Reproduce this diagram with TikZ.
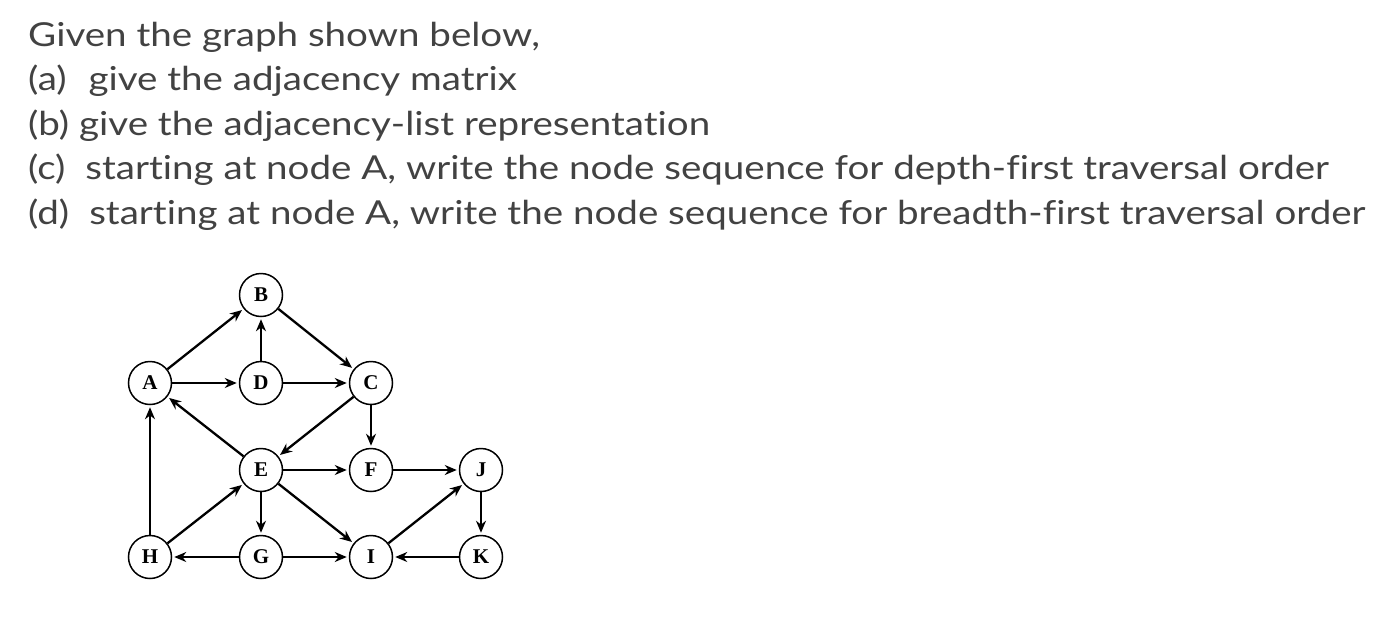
\documentclass[tikz,border=0pt]{standalone}
\usepackage{fontspec}
\setmainfont{Lato}[Ligatures=NoCommon,FakeStretch=1.168]
\newfontfamily\nodefont{Liberation Serif}
\usetikzlibrary{arrows.meta}
\definecolor{txtgray}{HTML}{424242}
\begin{document}
\begin{tikzpicture}[x=1pt,y=-1pt,
  vtx/.style={circle,draw=black,line width=1.5pt,minimum size=43pt,inner sep=0pt,font=\nodefont\bfseries\fontsize{21}{21}\selectfont},
  edge/.style={line width=2.3pt,-{Stealth[length=12pt,width=10pt]},shorten >=2pt},
  qline/.style={anchor=base west,inner sep=0pt,text=txtgray,font=\fontsize{33}{40}\selectfont}]
\useasboundingbox (0,0) rectangle (1396,616);
\node[qline] (t0) at (28,46) {Given the graph shown below,};
\node[qline] (t1) at (28,90.5) {(a)\hspace{22pt}give the adjacency matrix};
\node[qline] (t2) at (28,135) {(b) give the adjacency-list representation};
\node[qline] (t3) at (28,179.5) {(c)\hspace{20pt}starting at node A, write the node sequence for depth-first traversal order};
\node[qline] (t4) at (28,224) {(d)\hspace{20pt}starting at node A, write the node sequence for breadth-first traversal order};
\node[vtx] (B) at (261,295) {B};
\node[vtx] (A) at (150,383) {A};
\node[vtx] (D) at (261,383) {D};
\node[vtx] (C) at (371,383) {C};
\node[vtx] (E) at (261,470) {E};
\node[vtx] (F) at (371,470) {F};
\node[vtx] (J) at (481,470) {J};
\node[vtx] (H) at (150,557) {H};
\node[vtx] (G) at (261,557) {G};
\node[vtx] (I) at (371,557) {I};
\node[vtx] (K) at (481,557) {K};
\draw[edge] (A) -- (B);
\draw[edge] (A) -- (D);
\draw[edge] (D) -- (B);
\draw[edge] (D) -- (C);
\draw[edge] (B) -- (C);
\draw[edge] (C) -- (E);
\draw[edge] (C) -- (F);
\draw[edge] (E) -- (A);
\draw[edge] (E) -- (F);
\draw[edge] (E) -- (G);
\draw[edge] (E) -- (I);
\draw[edge] (F) -- (J);
\draw[edge] (H) -- (A);
\draw[edge] (H) -- (E);
\draw[edge] (G) -- (H);
\draw[edge] (G) -- (I);
\draw[edge] (I) -- (J);
\draw[edge] (J) -- (K);
\draw[edge] (K) -- (I);
\end{tikzpicture}
\end{document}
